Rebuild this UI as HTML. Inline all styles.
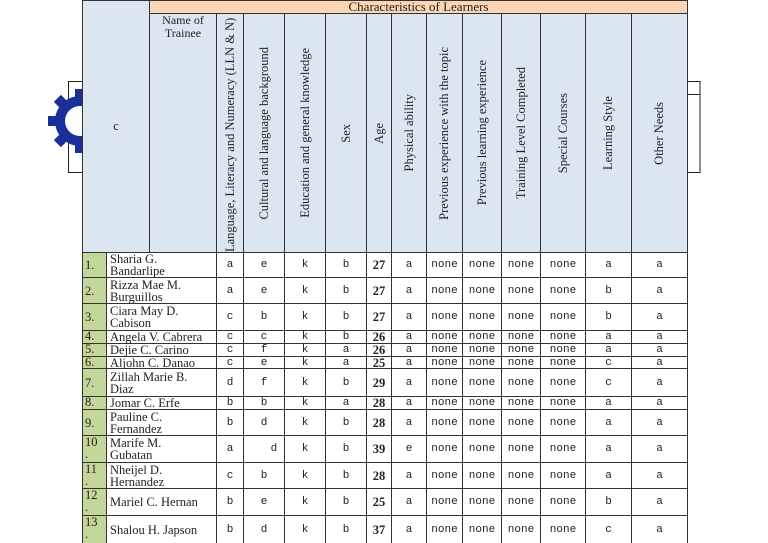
<!DOCTYPE html>
<html><head><meta charset="utf-8"><style>
html,body{margin:0;padding:0;background:#fff;width:768px;height:543px;overflow:hidden;position:relative;font-family:"Liberation Serif",serif;}
table{border-collapse:collapse;table-layout:fixed;position:absolute;left:82px;}
td{border:1px solid #333;padding:0;overflow:hidden;}
#h{top:0;background:#dce6f1;}
#h td{font-size:12.5px;color:#222;}
.or{background:#fcd5b4;text-align:center;font-size:13px!important;height:12px;line-height:12px;}
.v{writing-mode:vertical-rl;transform:rotate(180deg);white-space:nowrap;margin:auto;}
.vc{text-align:center;vertical-align:middle;}
#b{top:252px;}
#b td{text-align:center;vertical-align:middle;font-family:"Liberation Mono",monospace;font-size:11px;color:#222;line-height:10px;}
#b td.n{background:#c4d79b;text-align:left;vertical-align:top;font-family:"Liberation Serif",serif;font-size:12.5px;padding-left:2px;line-height:12px;}
#b td.nm{text-align:left;font-family:"Liberation Serif",serif;font-size:12.5px;padding-left:3px;line-height:12px;white-space:nowrap;}
#b tr.s td.n,#b tr.s td.nm{line-height:10px;}
#b td.ag{font-weight:bold;font-family:"Liberation Serif",serif;font-size:12.5px;}
</style></head><body>
<svg style="position:absolute;left:0;top:0" width="768" height="543">
<rect x="68.5" y="81.5" width="20" height="91" fill="none" stroke="#222"/>
<rect x="680" y="81.5" width="20" height="91" fill="none" stroke="#222"/>
<line x1="680" y1="94.5" x2="700" y2="94.5" stroke="#222"/>
<g transform="translate(80,121)" fill="#1a2f9a">
<circle r="25"/>
<g><rect x="-5" y="-32" width="10" height="10"/><rect x="-5" y="22" width="10" height="10"/><rect x="-32" y="-5" width="10" height="10"/>
<rect x="-5" y="-32" width="10" height="10" transform="rotate(45)"/><rect x="-5" y="-32" width="10" height="10" transform="rotate(-45)"/><rect x="-5" y="-32" width="10" height="10" transform="rotate(135)"/><rect x="-5" y="-32" width="10" height="10" transform="rotate(-135)"/></g>
<circle r="15" fill="#fff"/>
</g>
</svg>
<table id="h" style="width:605px">
<colgroup><col style="width:67px"><col style="width:67px"><col style="width:27px"><col style="width:41px"><col style="width:41px"><col style="width:41px"><col style="width:25px"><col style="width:35px"><col style="width:36px"><col style="width:39px"><col style="width:39px"><col style="width:45px"><col style="width:46px"><col style="width:56px"></colgroup>
<tr><td rowspan="2" class="vc" style="height:251px">c</td><td colspan="13" class="or">Characteristics of Learners</td></tr>
<tr style="height:239px">
<td style="vertical-align:top;text-align:center;line-height:13px;font-size:12px">Name of<br>Trainee</td>
<td style="vertical-align:bottom"><div class="v" style="height:236px;text-align:left">Language, Literacy and Numeracy (LLN &amp; N)</div></td>
<td class="vc"><div class="v">Cultural and language background</div></td>
<td class="vc"><div class="v">Education and general knowledge</div></td>
<td class="vc"><div class="v">Sex</div></td>
<td class="vc"><div class="v">Age</div></td>
<td class="vc"><div class="v">Physical ability</div></td>
<td class="vc"><div class="v">Previous experience with the topic</div></td>
<td class="vc"><div class="v">Previous learning experience</div></td>
<td class="vc"><div class="v">Training Level Completed</div></td>
<td class="vc"><div class="v">Special Courses</div></td>
<td class="vc"><div class="v">Learning Style</div></td>
<td class="vc"><div class="v">Other Needs</div></td>
</tr></table>
<table id="b" style="width:605px">
<colgroup><col style="width:24px"><col style="width:110px"><col style="width:27px"><col style="width:41px"><col style="width:41px"><col style="width:41px"><col style="width:25px"><col style="width:35px"><col style="width:36px"><col style="width:39px"><col style="width:39px"><col style="width:45px"><col style="width:46px"><col style="width:56px"></colgroup>
<tr style="height:25px"><td class="n" style="vertical-align:middle">1.</td><td class="nm">Sharia G.<br>Bandarlipe</td><td>a</td><td>e</td><td>k</td><td>b</td><td class="ag">27</td><td>a</td><td>none</td><td>none</td><td>none</td><td>none</td><td>a</td><td>a</td></tr>
<tr style="height:26px"><td class="n" style="vertical-align:middle">2.</td><td class="nm">Rizza Mae M.<br>Burguillos</td><td>a</td><td>e</td><td>k</td><td>b</td><td class="ag">27</td><td>a</td><td>none</td><td>none</td><td>none</td><td>none</td><td>b</td><td>a</td></tr>
<tr style="height:27px"><td class="n" style="vertical-align:middle">3.</td><td class="nm">Ciara May D.<br>Cabison</td><td>c</td><td>b</td><td>k</td><td>b</td><td class="ag">27</td><td>a</td><td>none</td><td>none</td><td>none</td><td>none</td><td>b</td><td>a</td></tr>
<tr class="s" style="height:13px"><td class="n">4.</td><td class="nm">Angela V. Cabrera</td><td>c</td><td>c</td><td>k</td><td>b</td><td class="ag">26</td><td>a</td><td>none</td><td>none</td><td>none</td><td>none</td><td>a</td><td>a</td></tr>
<tr class="s" style="height:13px"><td class="n">5.</td><td class="nm">Dejie C. Carino</td><td>c</td><td>f</td><td>k</td><td>a</td><td class="ag">26</td><td>a</td><td>none</td><td>none</td><td>none</td><td>none</td><td>a</td><td>a</td></tr>
<tr class="s" style="height:12px"><td class="n">6.</td><td class="nm">Aljohn C. Danao</td><td>c</td><td>e</td><td>k</td><td>a</td><td class="ag">25</td><td>a</td><td>none</td><td>none</td><td>none</td><td>none</td><td>c</td><td>a</td></tr>
<tr style="height:28px"><td class="n" style="vertical-align:middle">7.</td><td class="nm">Zillah Marie B.<br>Diaz</td><td>d</td><td>f</td><td>k</td><td>b</td><td class="ag">29</td><td>a</td><td>none</td><td>none</td><td>none</td><td>none</td><td>c</td><td>a</td></tr>
<tr class="s" style="height:13px"><td class="n">8.</td><td class="nm">Jomar C. Erfe</td><td>b</td><td>b</td><td>k</td><td>a</td><td class="ag">28</td><td>a</td><td>none</td><td>none</td><td>none</td><td>none</td><td>a</td><td>a</td></tr>
<tr style="height:26px"><td class="n" style="vertical-align:middle">9.</td><td class="nm">Pauline C.<br>Fernandez</td><td>b</td><td>d</td><td>k</td><td>b</td><td class="ag">28</td><td>a</td><td>none</td><td>none</td><td>none</td><td>none</td><td>a</td><td>a</td></tr>
<tr style="height:27px"><td class="n">10<br>.</td><td class="nm">Marife M.<br>Gubatan</td><td>a</td><td>&nbsp;&nbsp;&nbsp;d</td><td>k</td><td>b</td><td class="ag">39</td><td>e</td><td>none</td><td>none</td><td>none</td><td>none</td><td>a</td><td>a</td></tr>
<tr style="height:26px"><td class="n">11<br>.</td><td class="nm">Nheijel D.<br>Hernandez</td><td>c</td><td>b</td><td>k</td><td>b</td><td class="ag">28</td><td>a</td><td>none</td><td>none</td><td>none</td><td>none</td><td>a</td><td>a</td></tr>
<tr style="height:27px"><td class="n">12<br>.</td><td class="nm">Mariel C. Hernan</td><td>b</td><td>e</td><td>k</td><td>b</td><td class="ag">25</td><td>a</td><td>none</td><td>none</td><td>none</td><td>none</td><td>b</td><td>a</td></tr>
<tr style="height:28px"><td class="n">13<br>.</td><td class="nm">Shalou H. Japson</td><td>b</td><td>d</td><td>k</td><td>b</td><td class="ag">37</td><td>a</td><td>none</td><td>none</td><td>none</td><td>none</td><td>c</td><td>a</td></tr>
</table>
</body></html>
